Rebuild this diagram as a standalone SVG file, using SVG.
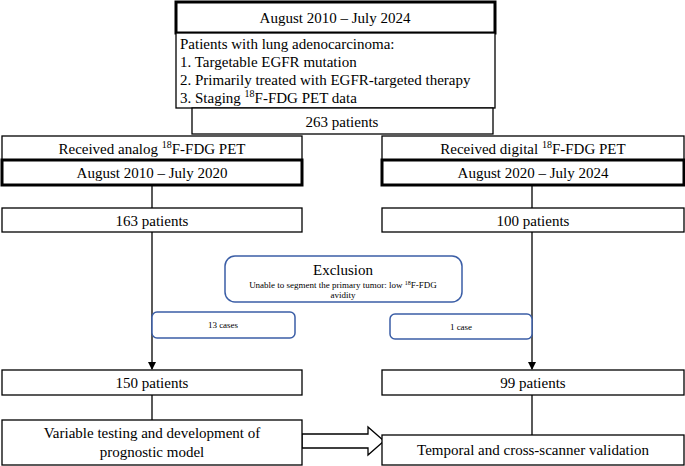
<svg xmlns="http://www.w3.org/2000/svg" width="685" height="466" viewBox="0 0 685 466">
<style>
text{font-family:"Liberation Serif",serif;fill:#000;font-size:15px}
text.s{font-size:9px}
tspan.sup{font-size:10px}
tspan.ssup{font-size:6px}
.b{fill:#fff;stroke:#000;stroke-width:1.3}
.t{fill:#fff;stroke:#000;stroke-width:3}
.r{fill:#fff;stroke:#3b5ea6;stroke-width:1.5}
.c{text-anchor:middle}
.l{stroke:#000;stroke-width:1.3;fill:none}
</style>
<defs><marker id="a" markerWidth="8" markerHeight="8" refX="7" refY="4" orient="auto" markerUnits="userSpaceOnUse"><path d="M0,0L8,4L0,8z" fill="#000"/></marker></defs>
<g id="connectors">
<line class="l" x1="152" y1="185" x2="152" y2="208"/>
<line class="l" x1="532" y1="185" x2="532" y2="208"/>
<line class="l" x1="152" y1="232" x2="152" y2="369" marker-end="url(#a)"/>
<line class="l" x1="532" y1="232" x2="532" y2="369" marker-end="url(#a)"/>
<line class="l" x1="152" y1="395" x2="152" y2="420"/>
<line class="l" x1="532" y1="395" x2="532" y2="435"/>
<path d="M302,434H368V427L384,441L368,455V448H302Z" fill="#fff" stroke="#000" stroke-width="1.3"/>
</g>
<g id="top"><rect class="t" x="176" y="2" width="319" height="31"/><text class="c" x="335" y="23">August 2010 – July 2024</text></g>
<g id="criteria"><rect class="b" x="176" y="33" width="319" height="75"/>
<text x="180" y="49">Patients with lung adenocarcinoma:</text>
<text x="180" y="67">1. Targetable EGFR mutation</text>
<text x="180" y="85">2. Primarily treated with EGFR-targeted therapy</text>
<text x="180" y="103">3. Staging <tspan class="sup" dy="-6">18</tspan><tspan dy="6">F-FDG PET data</tspan></text></g>
<g id="n263"><rect class="b" x="192" y="108" width="301" height="26"/><text class="c" x="342" y="127">263 patients</text></g>
<g id="analog"><rect class="b" x="2" y="136" width="300" height="24"/><text class="c" x="152" y="154">Received analog <tspan class="sup" dy="-6">18</tspan><tspan dy="6">F-FDG PET</tspan></text></g>
<g id="analogdate"><rect class="t" x="2" y="160" width="300" height="25"/><text class="c" x="152" y="178">August 2010 – July 2020</text></g>
<g id="digital"><rect class="b" x="382" y="136" width="302" height="24"/><text class="c" x="533" y="154">Received digital <tspan class="sup" dy="-6">18</tspan><tspan dy="6">F-FDG PET</tspan></text></g>
<g id="digitaldate"><rect class="t" x="382" y="160" width="302" height="25"/><text class="c" x="533" y="178">August 2020 – July 2024</text></g>
<g id="n163"><rect class="b" x="2" y="208" width="300" height="24"/><text class="c" x="152" y="226">163 patients</text></g>
<g id="n100"><rect class="b" x="382" y="208" width="302" height="24"/><text class="c" x="533" y="226">100 patients</text></g>
<g id="exclusion"><rect class="r" x="225" y="256" width="237" height="46" rx="10"/>
<text class="c" x="343" y="275">Exclusion</text>
<text class="c s" x="343" y="288">Unable to segment the primary tumor: low <tspan class="ssup" dy="-3">18</tspan><tspan dy="3">F-FDG</tspan></text>
<text class="c s" x="343" y="298">avidity</text></g>
<g id="ex13"><rect class="r" x="152" y="312" width="143" height="26" rx="5"/><text class="c s" x="223" y="328">13 cases</text></g>
<g id="ex1"><rect class="r" x="390" y="314" width="142" height="25" rx="5"/><text class="c s" x="461" y="330">1 case</text></g>
<g id="n150"><rect class="b" x="2" y="370" width="300" height="25"/><text class="c" x="152" y="388">150 patients</text></g>
<g id="n99"><rect class="b" x="382" y="370" width="302" height="25"/><text class="c" x="533" y="388">99 patients</text></g>
<g id="dev"><rect class="b" x="2" y="420" width="300" height="45"/><text class="c" x="152" y="438">Variable testing and development of</text><text class="c" x="152" y="457">prognostic model</text></g>
<g id="val"><rect class="b" x="382" y="435" width="302" height="30"/><text class="c" x="533" y="455">Temporal and cross-scanner validation</text></g>
</svg>
